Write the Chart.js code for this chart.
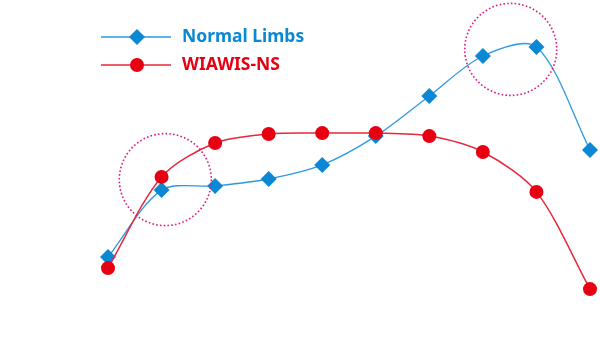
<!DOCTYPE html>
<html>
<head>
<meta charset="utf-8">
<script src="https://cdn.jsdelivr.net/npm/chart.js@4/dist/chart.umd.min.js"></script>
<style>
  html, body { margin: 0; padding: 0; background: #fff; }
  #wrap { position: relative; width: 600px; height: 342px; }
</style>
</head>
<body>
<div id="wrap"><canvas id="chart" width="600" height="342"></canvas></div>
<script>
/* ── Data ─────────────────────────────────────────── */
const categories = ['1', '2', '3', '4', '5', '6', '7', '8', '9', '10'];
const normalLimbs = [21, 43.3, 44.7, 47, 51.7, 61.3, 74.7, 88, 91, 56.7];
const wiawisNs    = [17.3, 47.7, 59, 62, 62.3, 62.3, 61.3, 56, 42.7, 10.3];
const seriesNames = ['Normal Limbs', 'WIAWIS-NS'];
// highlighted spots: [category index, value]
const highlights  = [[1.07, 46.8], [7.52, 90.2]];

/* ── Colors ───────────────────────────────────────── */
const BLUE      = '#0a88d4';
const BLUE_LINE = '#2b9ae0';
const RED       = '#e60012';
const RED_LINE  = '#e8283a';
const MAGENTA   = '#e4157f';

/* ── Plugins ──────────────────────────────────────── */
const highlightPlugin = {
  id: 'highlights',
  afterDatasetsDraw(chart) {
    const { ctx, scales: { x, y } } = chart;
    ctx.save();
    ctx.strokeStyle = MAGENTA;
    ctx.lineWidth = 1.6;
    ctx.setLineDash([1.6, 2.2]);
    highlights.forEach(([i, v]) => {
      const cx = x.getPixelForValue(i);
      const cy = y.getPixelForValue(v);
      ctx.beginPath();
      ctx.arc(cx, cy, 46, 0, Math.PI * 2);
      ctx.stroke();
    });
    ctx.restore();
  }
};

const legendPlugin = {
  id: 'sideLegend',
  afterDraw(chart) {
    const { ctx } = chart;
    const rows = [
      { name: seriesNames[0], line: BLUE_LINE, fill: BLUE, style: 'diamond', y: 37 },
      { name: seriesNames[1], line: RED_LINE,  fill: RED,  style: 'circle',  y: 65 }
    ];
    ctx.save();
    rows.forEach(r => {
      ctx.strokeStyle = r.line;
      ctx.lineWidth = 1.5;
      ctx.beginPath();
      ctx.moveTo(101, r.y);
      ctx.lineTo(171, r.y);
      ctx.stroke();
      ctx.fillStyle = r.fill;
      ctx.beginPath();
      if (r.style === 'diamond') {
        ctx.moveTo(137, r.y - 8);
        ctx.lineTo(145, r.y);
        ctx.lineTo(137, r.y + 8);
        ctx.lineTo(129, r.y);
        ctx.closePath();
      } else {
        ctx.arc(137, r.y, 7, 0, Math.PI * 2);
      }
      ctx.fill();
      ctx.font = 'bold 17.5px "Noto Sans"';
      ctx.textBaseline = 'middle';
      ctx.fillText(r.name, 182, r.y);
    });
    ctx.restore();
  }
};

/* ── Chart ────────────────────────────────────────── */
new Chart(document.getElementById('chart'), {
  type: 'line',
  data: {
    labels: categories,
    datasets: [
      {
        label: seriesNames[1],
        data: wiawisNs,
        borderColor: RED_LINE,
        backgroundColor: RED,
        borderWidth: 1.5,
        pointStyle: 'circle',
        pointRadius: 7,
        pointBorderWidth: 0,
        tension: 0.3,
        clip: false
      },
      {
        label: seriesNames[0],
        data: normalLimbs,
        borderColor: BLUE_LINE,
        backgroundColor: BLUE,
        borderWidth: 1.3,
        pointStyle: 'rectRot',
        pointRadius: 8,
        pointBorderWidth: 0,
        tension: 0.3,
        clip: false
      }
    ]
  },
  options: {
    responsive: false,
    animation: false,
    layout: { padding: { left: 108, right: 10, top: 20, bottom: 22 } },
    plugins: { legend: { display: false }, tooltip: { enabled: false } },
    scales: {
      x: { display: false, offset: false },
      y: { display: false, min: 0, max: 100 }
    }
  },
  plugins: [highlightPlugin, legendPlugin]
});
</script>
</body>
</html>
